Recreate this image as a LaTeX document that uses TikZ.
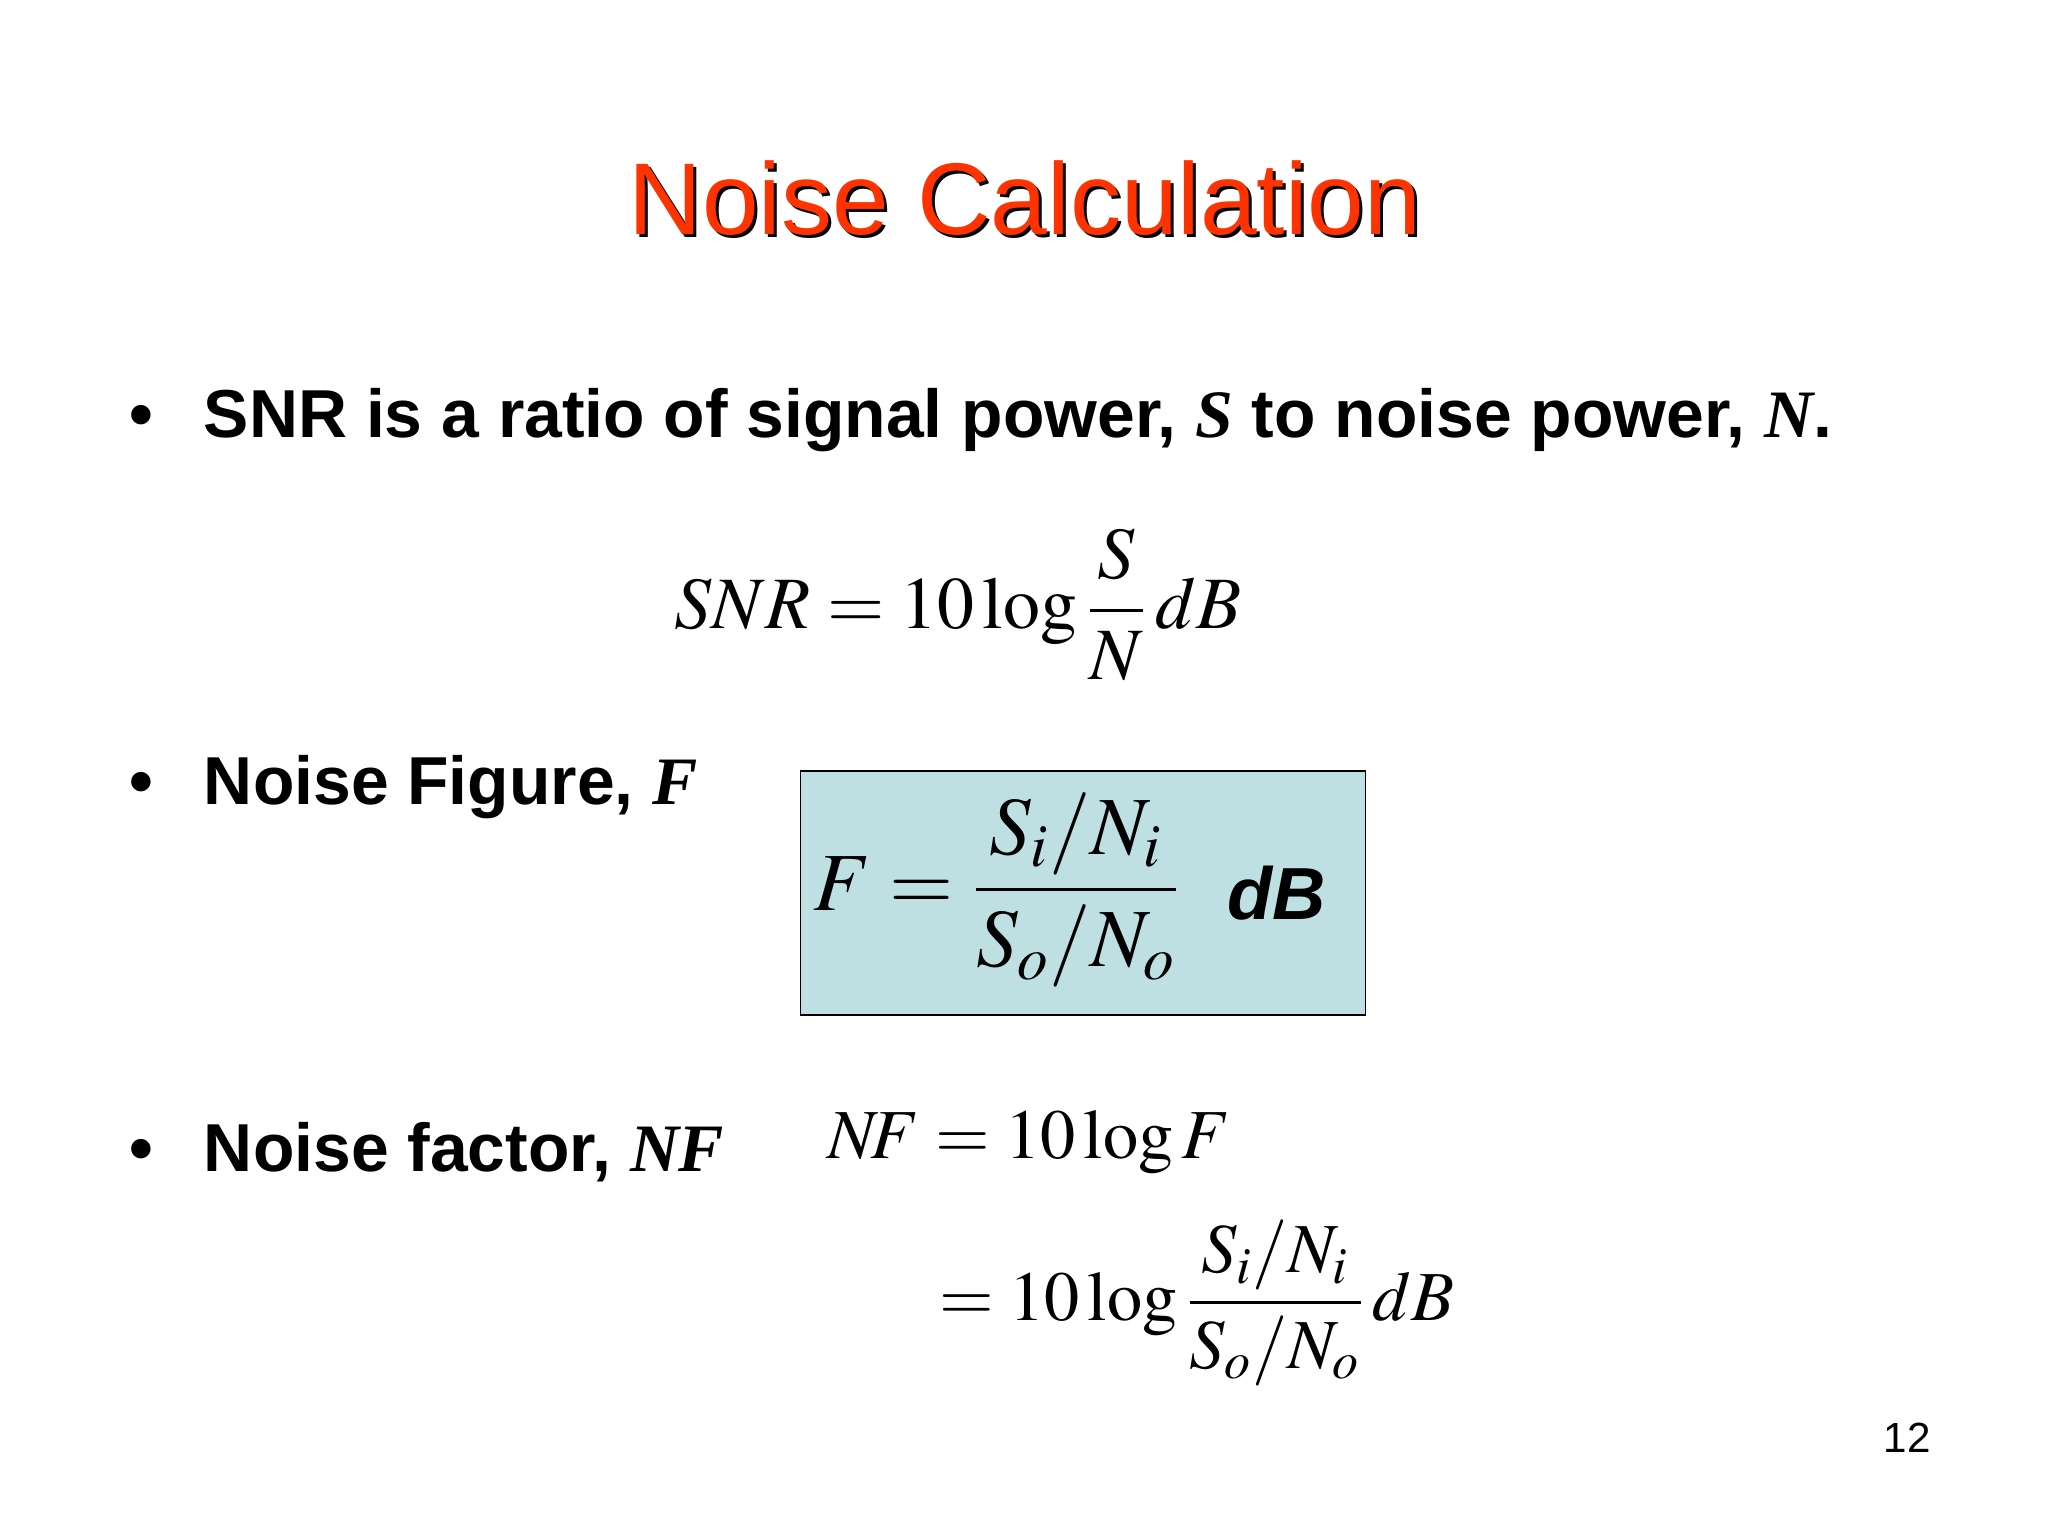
\documentclass[tikz,border=0pt]{standalone}
\usepackage{amsmath}
\usepackage{mathptmx}
\usepackage[no-math]{fontspec}
\setmainfont{Liberation Sans}
\newfontfamily\tms{Liberation Serif}
\newcommand{\bsym}[1]{{\tms\bfseries\itshape #1}}
\definecolor{titlered}{HTML}{FF3300}
\definecolor{boxcyan}{HTML}{BEE0E2}
\begin{document}
\begin{tikzpicture}[
  bul/.style={anchor=west,font=\fontsize{19.3}{23}\selectfont\bfseries},
  eq/.style={font=\fontsize{21}{25}\selectfont},
  eqb/.style={font=\fontsize{20}{24}\selectfont},
  x=1cm,y=1cm]
\useasboundingbox[fill=white] (0,0) rectangle (20.48,-15.36);
\node[font=\fontsize{29}{34}\selectfont,text=black] at (10.28,-2.01) {Noise Calculation};
\node[font=\fontsize{29}{34}\selectfont,text=titlered] (title) at (10.25,-1.98) {Noise Calculation};
\node[bul] (b1) at (1.17,-4.2) {•\hspace{0.75em}SNR is a ratio of signal power, \bsym{S} to noise power, \bsym{N}.};
\node[eq] (snr) at (9.58,-6.05) {$SNR = 10\log\dfrac{S}{N}\,dB$};
\node[bul] (b2) at (1.17,-7.87) {•\hspace{0.75em}Noise Figure, \bsym{F}};
\node[draw=black,fill=boxcyan,minimum width=5.65cm,minimum height=2.44cm] (box) at (10.83,-8.93) {};
\node[font=\fontsize{23.5}{28}\selectfont] (feq) at (9.97,-8.9) {$F = \dfrac{S_i/N_i}{S_o/N_o}$};
\node[font=\fontsize{21}{25}\selectfont\bfseries\itshape] (db) at (12.77,-8.93) {dB};
\node[bul] (b3) at (1.17,-11.52) {•\hspace{0.75em}Noise factor, \bsym{NF}};
\node[eqb,anchor=west] (nf1) at (8.15,-11.42) {$N\!F = 10\log F$};
\node[eqb,anchor=west] (nf2) at (9.27,-13.03) {$= 10\log\dfrac{S_i/N_i}{S_o/N_o}\,dB$};
\node[font=\fontsize{12}{14}\selectfont] (pg) at (19.07,-14.38) {12};
\end{tikzpicture}
\end{document}
